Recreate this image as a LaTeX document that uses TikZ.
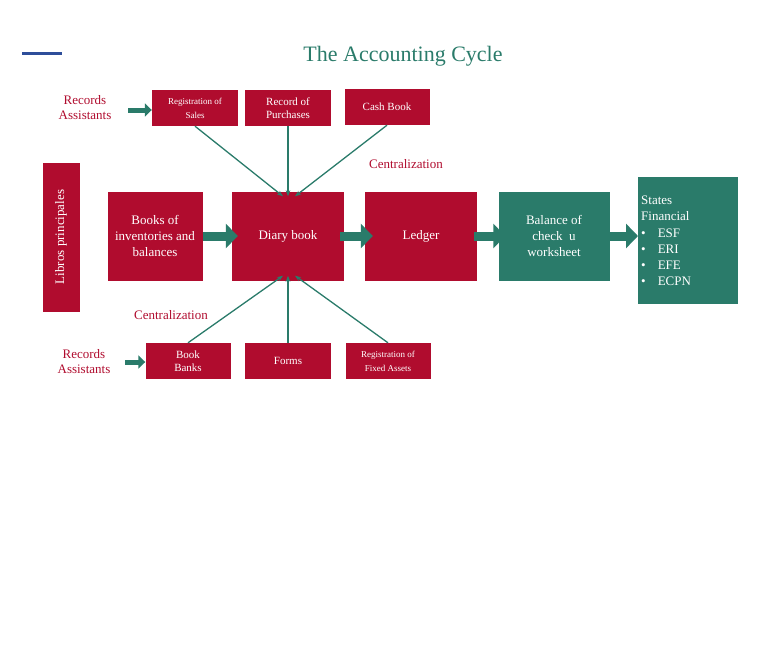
\documentclass[tikz,border=0pt]{standalone}
\usepackage{fontspec}
\setmainfont{Liberation Serif}
\usepackage{tikz}
\usetikzlibrary{arrows.meta}
\definecolor{cyred}{HTML}{B00C2E}
\definecolor{cygreen}{HTML}{2A7B6A}
\definecolor{cyblue}{HTML}{2E4E9A}

\begin{document}
\begin{tikzpicture}[x=1pt,y=-1pt,
    box/.style={fill=cyred,text=white,inner sep=1pt,align=center,font=\fontsize{11}{13}\selectfont},
    gbox/.style={fill=cygreen,text=white,inner sep=2pt,font=\fontsize{13}{16}\selectfont},
    lbl/.style={text=cyred,align=center,font=\fontsize{13}{15}\selectfont},
    flow/.style={cygreen,line width=9pt,-{Triangle[length=12pt,width=24pt]}},
    feed/.style={cygreen,line width=1.3pt,-{Stealth[length=6pt]}}]
    \useasboundingbox (0,0) rectangle (768,669);
    \draw[cyblue,line width=3pt] (22,54) -- (62,54);
    \node[text=cygreen,font=\fontsize{22}{26}\selectfont] (title) at (403,56) {The Accounting Cycle};
    % upper row
    \node[lbl] (recup) at (85,108) {Records\\Assistants};
    \node[box,minimum width=86pt,minimum height=36pt,font=\fontsize{9}{14}\selectfont] (sales) at (195,108) {Registration of\\Sales};
    \node[box,minimum width=86pt,minimum height=36pt] (purch) at (288,108) {Record of\\Purchases};
    \node[box,minimum width=85pt,minimum height=36pt] (cash) at (387,107) {Cash Book};
    \node[lbl] (centup) at (406,164) {Centralization};
    % main row
    \node[box,minimum width=149pt,minimum height=37pt,rotate=90,font=\fontsize{13}{15}\selectfont] (libros) at (61,237) {Libros principales};
    \node[box,minimum width=95pt,minimum height=89pt,font=\fontsize{13}{16}\selectfont] (invent) at (155,236) {Books of\\inventories and\\balances};
    \node[box,minimum width=112pt,minimum height=89pt,font=\fontsize{13}{16}\selectfont] (diary) at (288,236) {Diary book};
    \node[box,minimum width=112pt,minimum height=89pt,font=\fontsize{13}{16}\selectfont] (ledger) at (421,236) {Ledger};
    \node[gbox,minimum width=111pt,minimum height=89pt,align=center] (balance) at (554,236) {Balance of\\check\ \ u\\worksheet};
    \node[gbox,minimum width=100pt,minimum height=127pt,text width=94pt,align=left,anchor=north west] (states) at (638,177)
      {States\\Financial\\[1pt]
       \textbullet\hspace{12pt}ESF\\ \textbullet\hspace{12pt}ERI\\ \textbullet\hspace{12pt}EFE\\ \textbullet\hspace{12pt}ECPN\\[6pt]};
    % lower row
    \node[lbl] (centdown) at (171,315) {Centralization};
    \node[lbl] (recdown) at (84,362) {Records\\Assistants};
    \node[box,minimum width=85pt,minimum height=36pt] (banks) at (188,361) {Book\\Banks};
    \node[box,minimum width=86pt,minimum height=36pt] (forms) at (288,361) {Forms};
    \node[box,minimum width=85pt,minimum height=36pt,font=\fontsize{9}{14}\selectfont] (fixed) at (388,361) {Registration of\\Fixed Assets};
    % flows
    \draw[flow] (invent.east) -- ([xshift=6pt]diary.west);
    \draw[flow] ([xshift=-4pt]diary.east) -- ([xshift=8pt]ledger.west);
    \draw[flow] ([xshift=-3pt]ledger.east) -- ([xshift=7pt]balance.west);
    \draw[flow] (balance.east) -- (states.west |- balance.east);
    \draw[cygreen,line width=5pt,-{Triangle[length=7pt,width=13pt]}] (128,110) -- (sales.west |- 0,110);
    \draw[cygreen,line width=5pt,-{Triangle[length=7pt,width=13pt]}] (125,362) -- (banks.west |- 0,362);
    % feeds
    \draw[feed] (sales.south) -- ([xshift=-5pt,yshift=-5pt]diary.north);
    \draw[feed] (purch.south) -- ([yshift=-5pt]diary.north);
    \draw[feed] (cash.south) -- ([xshift=7pt,yshift=-5pt]diary.north);
    \draw[feed] (banks.north) -- ([xshift=-5pt,yshift=5pt]diary.south);
    \draw[feed] (forms.north) -- ([yshift=5pt]diary.south);
    \draw[feed] (fixed.north) -- ([xshift=7pt,yshift=5pt]diary.south);
\end{tikzpicture}
\end{document}
